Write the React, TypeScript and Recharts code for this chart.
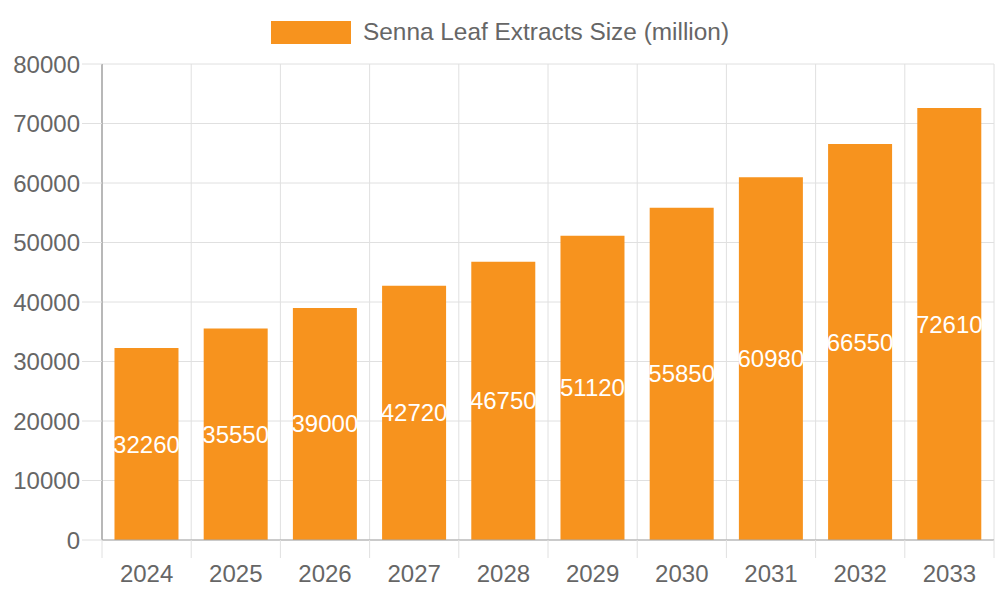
import React from "react";
import {
  Bar,
  BarChart,
  CartesianGrid,
  LabelList,
  Legend,
  XAxis,
  YAxis,
} from "recharts";

const years = ["2024", "2025", "2026", "2027", "2028", "2029", "2030", "2031", "2032", "2033"];
const sizes = [32260, 35550, 39000, 42720, 46750, 51120, 55850, 60980, 66550, 72610];
const yTicks = [0, 10000, 20000, 30000, 40000, 50000, 60000, 70000, 80000];
const seriesName = "Senna Leaf Extracts Size (million)";

const data = years.map((year, i) => ({ year, slot: i, size: sizes[i] }));
const boundaryTicks = years.map((_, i) => i).concat(years.length);

const FONT = '"Liberation Sans", Arial, sans-serif';
const ORANGE = "#f7931e";
const GRID = "#e0e0e0";
const AXIS = "#a6a6a6";
const TEXT = "#666666";

function LegendBox() {
  return (
    <div
      style={{
        height: 54,
        display: "flex",
        justifyContent: "center",
        alignItems: "flex-start",
        fontFamily: FONT,
      }}
    >
      <div style={{ display: "flex", alignItems: "center", marginTop: 8 }}>
        <span
          style={{ width: 80, height: 23, background: ORANGE, display: "inline-block" }}
        />
        <span style={{ marginLeft: 12, fontSize: 24.4, color: TEXT }}>{seriesName}</span>
      </div>
    </div>
  );
}

const NoLabel = () => <g />;

export default function App() {
  return (
    <div style={{ position: "absolute", left: 0, top: 0, width: 1000, height: 600, background: "#fff" }}>
      <BarChart
        width={1000}
        height={600}
        data={data}
        margin={{ top: 10, right: 6, left: 0, bottom: 0 }}
        barCategoryGap="14%"
      >
        <Legend
          verticalAlign="top"
          content={() => <LegendBox />}
          wrapperStyle={{ left: 0, width: 1000 }}
        />
        <CartesianGrid stroke={GRID} xAxisId="a" />
        <XAxis
          xAxisId="b"
          dataKey="year"
          axisLine={false}
          tickLine={false}
          tickSize={0}
          tickMargin={7}
          height={42}
          interval={0}
          tick={{ fill: TEXT, fontSize: 24, fontFamily: FONT }}
        />
        <XAxis
          xAxisId="a"
          dataKey="slot"
          type="number"
          domain={[0, years.length]}
          allowDataOverflow
          allowDecimals={false}
          ticks={boundaryTicks}
          interval={0}
          tick={NoLabel}
          tickSize={18}
          tickLine={{ stroke: GRID }}
          axisLine={{ stroke: AXIS }}
          height={18}
        />
        <YAxis
          width={102}
          domain={[0, 80000]}
          ticks={yTicks}
          interval={0}
          tickSize={20}
          tickMargin={2}
          tickLine={{ stroke: GRID }}
          axisLine={{ stroke: AXIS, strokeWidth: 1.5 }}
          tick={{ fill: TEXT, fontSize: 24, fontFamily: FONT }}
        />
        <Bar xAxisId="b" dataKey="size" name={seriesName} fill={ORANGE} isAnimationActive={false}>
          <LabelList
            dataKey="size"
            position="center"
            fill="#ffffff"
            fontSize={24}
            fontFamily={FONT}
          />
        </Bar>
      </BarChart>
    </div>
  );
}
